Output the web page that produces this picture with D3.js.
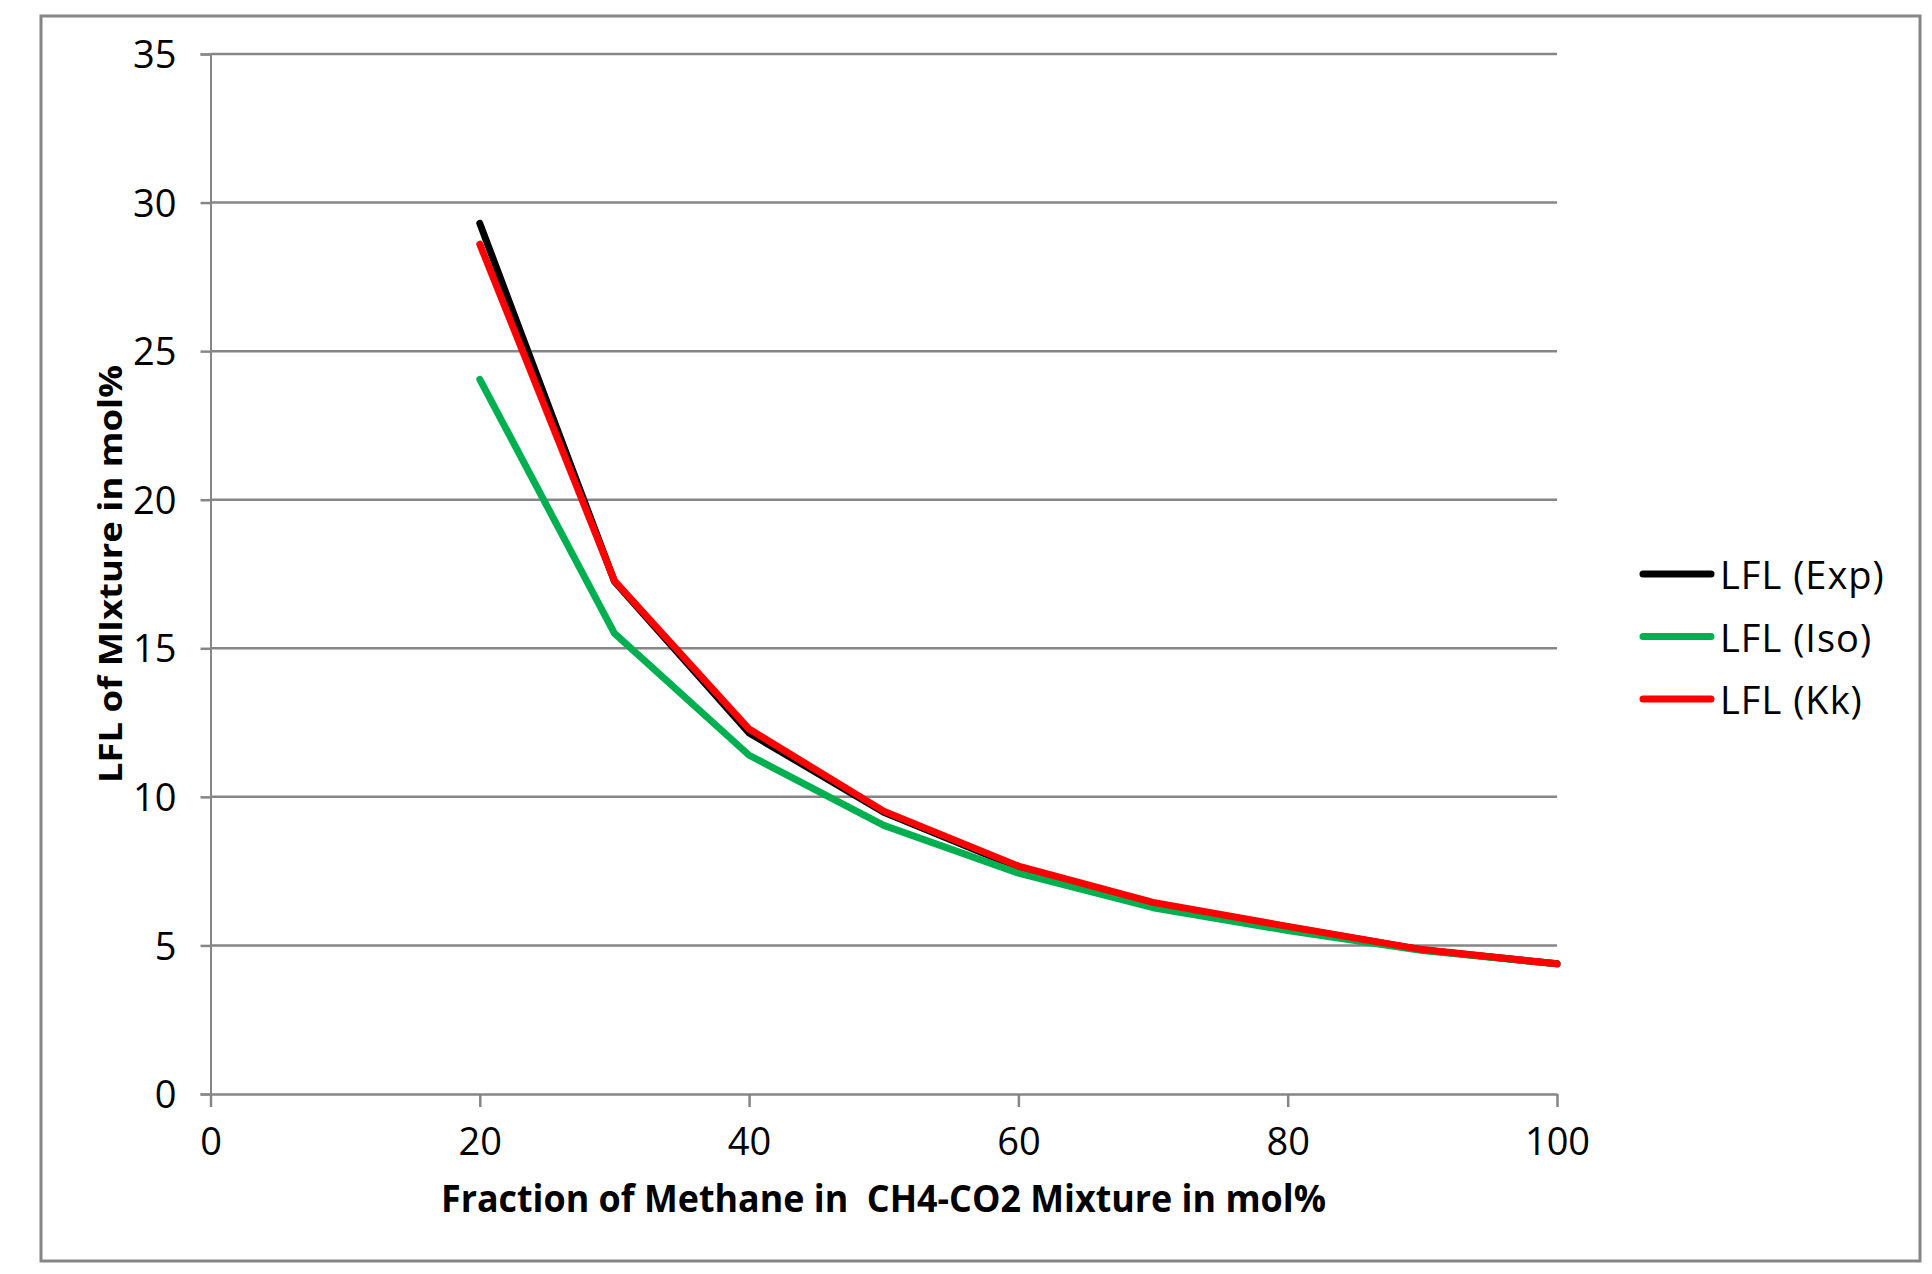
<!DOCTYPE html>
<html>
<head>
<meta charset="utf-8">
<script src="https://cdn.jsdelivr.net/npm/d3@7"></script>
<style>
  body { margin: 0; background: #fff; }
  text { font-family: "Open Sans", "Noto Sans", sans-serif; fill: #000; }
</style>
</head>
<body>
<svg id="chart" width="1932" height="1274"></svg>
<script>
// methane fraction (mol%)
const fractions = [20, 30, 40, 50, 60, 70, 80, 90, 100];
const lflExp = [29.3, 17.25, 12.15, 9.48, 7.62, 6.42, 5.62, 4.85, 4.38];
const lflIso = [24.05, 15.5, 11.4, 9.04, 7.43, 6.27, 5.5, 4.83, 4.38];
const lflKk = [28.6, 17.27, 12.28, 9.52, 7.67, 6.45, 5.64, 4.86, 4.38];
const seriesNames = ['LFL (Exp)', 'LFL (Iso)', 'LFL (Kk)'];
const xTicks = [0, 20, 40, 60, 80, 100];
const yTicks = [0, 5, 10, 15, 20, 25, 30, 35];

const colors = ['#000000', '#00b050', '#ff0000'];
const series = [lflExp, lflIso, lflKk].map((vals, i) => ({
    name: seriesNames[i],
    color: colors[i],
    points: fractions.map((f, j) => ({ x: f, y: vals[j] }))
}));

const svg = d3.select('#chart');
const grey = '#868686';

// outer chart border
svg.append('rect')
    .attr('x', 41).attr('y', 16)
    .attr('width', 1879).attr('height', 1245)
    .attr('fill', 'none')
    .attr('stroke', grey)
    .attr('stroke-width', 3);

const x = d3.scaleLinear().domain([0, 100]).range([210.5, 1557]);
const y = d3.scaleLinear().domain([0, 35]).range([1094, 54]);

// horizontal gridlines + y axis
const yAxis = svg.append('g')
    .attr('transform', `translate(${x(0)},0)`)
    .call(d3.axisLeft(y).tickValues(yTicks).tickSize(10).tickPadding(24).tickFormat(d3.format('d')));
yAxis.select('.domain').attr('stroke', grey).attr('stroke-width', 2);
yAxis.selectAll('.tick line').attr('stroke', grey).attr('stroke-width', 2.5);
yAxis.selectAll('.tick text')
    .attr('font-size', 38)
    .attr('dy', '0.36em')
    .style('font-family', '"Open Sans", sans-serif');

svg.append('g')
    .selectAll('line')
    .data(yTicks.filter(d => d > 0))
    .enter().append('line')
    .attr('x1', x(0)).attr('x2', x(100))
    .attr('y1', d => y(d)).attr('y2', d => y(d))
    .attr('stroke', grey)
    .attr('stroke-width', 2.5);

// x axis
const xAxis = svg.append('g')
    .attr('transform', `translate(0,${y(0)})`)
    .call(d3.axisBottom(x).tickValues(xTicks).tickSize(13).tickSizeOuter(0).tickPadding(21).tickFormat(d3.format('d')));
xAxis.select('.domain').attr('stroke', grey).attr('stroke-width', 2.5);
xAxis.selectAll('.tick line').attr('stroke', grey).attr('stroke-width', 2.5);
xAxis.selectAll('.tick text')
    .attr('font-size', 38)
    .attr('dy', '0.71em')
    .style('font-family', '"Open Sans", sans-serif');

// series lines
const line = d3.line().x(d => x(d.x)).y(d => y(d.y));
svg.append('g')
    .selectAll('path')
    .data(series)
    .enter().append('path')
    .attr('d', d => line(d.points))
    .attr('fill', 'none')
    .attr('stroke', d => d.color)
    .attr('stroke-width', 7)
    .attr('stroke-linecap', 'round')
    .attr('stroke-linejoin', 'round');

// axis titles
svg.append('text')
    .attr('x', 441).attr('y', 1212)
    .attr('font-size', 38)
    .attr('font-weight', 'bold')
    .attr('textLength', 885)
    .attr('lengthAdjust', 'spacingAndGlyphs')
    .style('white-space', 'pre')
    .text('Fraction of Methane in  CH4-CO2 Mixture in mol%');

svg.append('text')
    .attr('transform', 'translate(122,574) rotate(-90)')
    .attr('text-anchor', 'middle')
    .attr('font-size', 32)
    .attr('font-weight', 'bold')
    .attr('textLength', 418)
    .attr('lengthAdjust', 'spacingAndGlyphs')
    .text('LFL of MIxture in mol%');

// legend
const legend = svg.append('g');
const legendRows = legend.selectAll('g')
    .data(series)
    .enter().append('g')
    .attr('transform', (d, i) => `translate(0,${574 + i * 62.5})`);
legendRows.append('line')
    .attr('x1', 1643).attr('x2', 1711)
    .attr('stroke', d => d.color)
    .attr('stroke-width', 7)
    .attr('stroke-linecap', 'round');
legendRows.append('text')
    .attr('x', 1720).attr('y', 15)
    .attr('font-size', 38)
    .attr('letter-spacing', 1)
    .text(d => d.name);
</script>
</body>
</html>
